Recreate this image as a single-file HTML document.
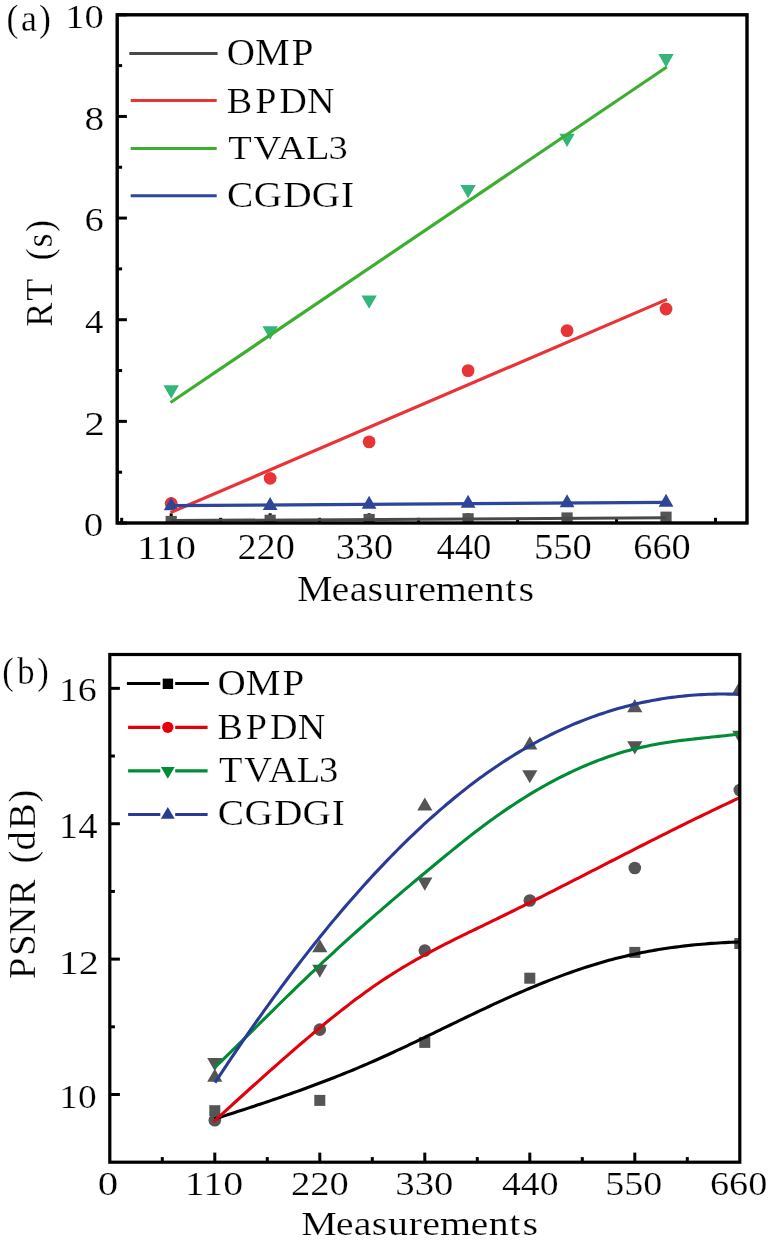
<!DOCTYPE html>
<html><head><meta charset="utf-8"><title>RT and PSNR vs Measurements</title><style>html,body{margin:0;padding:0;background:#fff}svg{display:block}</style></head><body>
<svg width="768" height="1243" viewBox="0 0 768 1243">
<rect width="768" height="1243" fill="#fff"/>
<clipPath id="ca"><rect x="117.2" y="14.8" width="629.8" height="508.2"/></clipPath>
<clipPath id="cb"><rect x="109.8" y="654.5" width="630" height="507.7"/></clipPath>
<line x1="117.20" y1="523.00" x2="126.90" y2="523.00" stroke="#000" stroke-width="3"/>
<line x1="117.20" y1="421.36" x2="126.90" y2="421.36" stroke="#000" stroke-width="3"/>
<line x1="117.20" y1="319.72" x2="126.90" y2="319.72" stroke="#000" stroke-width="3"/>
<line x1="117.20" y1="218.08" x2="126.90" y2="218.08" stroke="#000" stroke-width="3"/>
<line x1="117.20" y1="116.44" x2="126.90" y2="116.44" stroke="#000" stroke-width="3"/>
<line x1="117.20" y1="14.80" x2="126.90" y2="14.80" stroke="#000" stroke-width="3"/>
<line x1="117.20" y1="472.18" x2="122.10" y2="472.18" stroke="#000" stroke-width="3"/>
<line x1="117.20" y1="370.54" x2="122.10" y2="370.54" stroke="#000" stroke-width="3"/>
<line x1="117.20" y1="268.90" x2="122.10" y2="268.90" stroke="#000" stroke-width="3"/>
<line x1="117.20" y1="167.26" x2="122.10" y2="167.26" stroke="#000" stroke-width="3"/>
<line x1="117.20" y1="65.62" x2="122.10" y2="65.62" stroke="#000" stroke-width="3"/>
<line x1="171.18" y1="523.00" x2="171.18" y2="513.30" stroke="#000" stroke-width="3"/>
<line x1="270.15" y1="523.00" x2="270.15" y2="513.30" stroke="#000" stroke-width="3"/>
<line x1="369.12" y1="523.00" x2="369.12" y2="513.30" stroke="#000" stroke-width="3"/>
<line x1="468.09" y1="523.00" x2="468.09" y2="513.30" stroke="#000" stroke-width="3"/>
<line x1="567.06" y1="523.00" x2="567.06" y2="513.30" stroke="#000" stroke-width="3"/>
<line x1="666.03" y1="523.00" x2="666.03" y2="513.30" stroke="#000" stroke-width="3"/>
<line x1="121.70" y1="523.00" x2="121.70" y2="517.80" stroke="#000" stroke-width="3"/>
<line x1="220.67" y1="523.00" x2="220.67" y2="517.80" stroke="#000" stroke-width="3"/>
<line x1="319.64" y1="523.00" x2="319.64" y2="517.80" stroke="#000" stroke-width="3"/>
<line x1="418.60" y1="523.00" x2="418.60" y2="517.80" stroke="#000" stroke-width="3"/>
<line x1="517.57" y1="523.00" x2="517.57" y2="517.80" stroke="#000" stroke-width="3"/>
<line x1="616.54" y1="523.00" x2="616.54" y2="517.80" stroke="#000" stroke-width="3"/>
<line x1="715.51" y1="523.00" x2="715.51" y2="517.80" stroke="#000" stroke-width="3"/>
<g clip-path="url(#ca)">
<rect x="165.58" y="515.90" width="11.20" height="11.20" fill="#555555"/>
<rect x="264.55" y="514.70" width="11.20" height="11.20" fill="#555555"/>
<rect x="363.52" y="513.90" width="11.20" height="11.20" fill="#555555"/>
<rect x="462.49" y="513.20" width="11.20" height="11.20" fill="#555555"/>
<rect x="561.46" y="512.40" width="11.20" height="11.20" fill="#555555"/>
<rect x="660.43" y="511.60" width="11.20" height="11.20" fill="#555555"/>
<path d="M163.48,385.35 L171.18,398.65 L178.88,385.35Z" fill="#34b57b"/>
<path d="M262.45,326.35 L270.15,339.65 L277.85,326.35Z" fill="#34b57b"/>
<path d="M361.42,295.55 L369.12,308.85 L376.82,295.55Z" fill="#34b57b"/>
<path d="M460.39,185.05 L468.09,198.35 L475.79,185.05Z" fill="#34b57b"/>
<path d="M559.36,133.70 L567.06,147.00 L574.76,133.70Z" fill="#34b57b"/>
<path d="M658.33,54.10 L666.03,67.40 L673.73,54.10Z" fill="#34b57b"/>
<circle cx="171.18" cy="503.50" r="6.40" fill="#e83437"/>
<circle cx="270.15" cy="478.30" r="6.40" fill="#e83437"/>
<circle cx="369.12" cy="441.90" r="6.40" fill="#e83437"/>
<circle cx="468.09" cy="370.60" r="6.40" fill="#e83437"/>
<circle cx="567.06" cy="330.60" r="6.40" fill="#e83437"/>
<circle cx="666.03" cy="309.00" r="6.40" fill="#e83437"/>
<path d="M163.78,510.25 L171.18,497.15 L178.58,510.25Z" fill="#2d4699"/>
<path d="M262.75,510.05 L270.15,496.95 L277.55,510.05Z" fill="#2d4699"/>
<path d="M361.72,508.85 L369.12,495.75 L376.52,508.85Z" fill="#2d4699"/>
<path d="M460.69,507.85 L468.09,494.75 L475.49,507.85Z" fill="#2d4699"/>
<path d="M559.66,507.25 L567.06,494.15 L574.46,507.25Z" fill="#2d4699"/>
<path d="M658.63,506.75 L666.03,493.65 L673.43,506.75Z" fill="#2d4699"/>
<line x1="171.00" y1="520.60" x2="666.20" y2="517.80" stroke="#4b4947" stroke-width="3"/>
<line x1="170.50" y1="512.60" x2="667.00" y2="299.40" stroke="#e83437" stroke-width="3.2"/>
<line x1="170.50" y1="402.50" x2="666.80" y2="67.00" stroke="#3daf30" stroke-width="3.2"/>
<line x1="171.00" y1="505.60" x2="665.50" y2="502.30" stroke="#2d4699" stroke-width="3.2"/>
</g>
<rect x="117.2" y="14.8" width="629.8" height="508.2" fill="none" stroke="#000" stroke-width="3.4"/>
<line x1="129.30" y1="53.45" x2="217.60" y2="53.45" stroke="#4b4947" stroke-width="3"/>
<line x1="130.70" y1="100.60" x2="216.70" y2="100.60" stroke="#e83437" stroke-width="3"/>
<line x1="130.70" y1="148.60" x2="216.70" y2="148.60" stroke="#3daf30" stroke-width="3"/>
<line x1="130.70" y1="195.80" x2="216.70" y2="195.80" stroke="#2d4699" stroke-width="3"/>
<line x1="109.80" y1="1094.51" x2="119.90" y2="1094.51" stroke="#000" stroke-width="3"/>
<line x1="109.80" y1="959.12" x2="119.90" y2="959.12" stroke="#000" stroke-width="3"/>
<line x1="109.80" y1="823.73" x2="119.90" y2="823.73" stroke="#000" stroke-width="3"/>
<line x1="109.80" y1="688.35" x2="119.90" y2="688.35" stroke="#000" stroke-width="3"/>
<line x1="109.80" y1="1026.81" x2="114.90" y2="1026.81" stroke="#000" stroke-width="3"/>
<line x1="109.80" y1="891.43" x2="114.90" y2="891.43" stroke="#000" stroke-width="3"/>
<line x1="109.80" y1="756.04" x2="114.90" y2="756.04" stroke="#000" stroke-width="3"/>
<line x1="214.80" y1="1162.20" x2="214.80" y2="1152.60" stroke="#000" stroke-width="3"/>
<line x1="319.80" y1="1162.20" x2="319.80" y2="1152.60" stroke="#000" stroke-width="3"/>
<line x1="424.80" y1="1162.20" x2="424.80" y2="1152.60" stroke="#000" stroke-width="3"/>
<line x1="529.80" y1="1162.20" x2="529.80" y2="1152.60" stroke="#000" stroke-width="3"/>
<line x1="634.80" y1="1162.20" x2="634.80" y2="1152.60" stroke="#000" stroke-width="3"/>
<line x1="162.30" y1="1162.20" x2="162.30" y2="1157.10" stroke="#000" stroke-width="3"/>
<line x1="267.30" y1="1162.20" x2="267.30" y2="1157.10" stroke="#000" stroke-width="3"/>
<line x1="372.30" y1="1162.20" x2="372.30" y2="1157.10" stroke="#000" stroke-width="3"/>
<line x1="477.30" y1="1162.20" x2="477.30" y2="1157.10" stroke="#000" stroke-width="3"/>
<line x1="582.30" y1="1162.20" x2="582.30" y2="1157.10" stroke="#000" stroke-width="3"/>
<line x1="687.30" y1="1162.20" x2="687.30" y2="1157.10" stroke="#000" stroke-width="3"/>
<g clip-path="url(#cb)">
<rect x="209.30" y="1105.20" width="11.00" height="11.00" fill="#555555"/>
<circle cx="214.80" cy="1120.20" r="6.30" fill="#555555"/>
<path d="M207.20,1058.05 L214.80,1071.15 L222.40,1058.05Z" fill="#555555"/>
<path d="M207.20,1081.85 L214.80,1068.75 L222.40,1081.85Z" fill="#555555"/>
<rect x="314.30" y="1094.90" width="11.00" height="11.00" fill="#555555"/>
<circle cx="319.80" cy="1029.60" r="6.30" fill="#555555"/>
<path d="M312.20,964.65 L319.80,977.75 L327.40,964.65Z" fill="#555555"/>
<path d="M312.20,952.35 L319.80,939.25 L327.40,952.35Z" fill="#555555"/>
<rect x="419.30" y="1036.90" width="11.00" height="11.00" fill="#555555"/>
<circle cx="424.80" cy="950.60" r="6.30" fill="#555555"/>
<path d="M417.20,877.55 L424.80,890.65 L432.40,877.55Z" fill="#555555"/>
<path d="M417.20,810.55 L424.80,797.45 L432.40,810.55Z" fill="#555555"/>
<rect x="524.30" y="972.70" width="11.00" height="11.00" fill="#555555"/>
<circle cx="529.80" cy="900.50" r="6.30" fill="#555555"/>
<path d="M522.20,770.25 L529.80,783.35 L537.40,770.25Z" fill="#555555"/>
<path d="M522.20,749.45 L529.80,736.35 L537.40,749.45Z" fill="#555555"/>
<rect x="629.30" y="946.90" width="11.00" height="11.00" fill="#555555"/>
<circle cx="634.80" cy="868.00" r="6.30" fill="#555555"/>
<path d="M627.20,741.35 L634.80,754.45 L642.40,741.35Z" fill="#555555"/>
<path d="M627.20,712.15 L634.80,699.05 L642.40,712.15Z" fill="#555555"/>
<rect x="734.30" y="938.00" width="11.00" height="11.00" fill="#555555"/>
<circle cx="739.80" cy="790.00" r="6.30" fill="#555555"/>
<path d="M732.20,730.75 L739.80,743.85 L747.40,730.75Z" fill="#555555"/>
<path d="M732.20,693.75 L739.80,680.65 L747.40,693.75Z" fill="#555555"/>
<polyline points="214.30,1119.02 217.62,1117.97 220.93,1116.91 224.25,1115.86 227.56,1114.80 230.88,1113.73 234.19,1112.67 237.51,1111.59 240.83,1110.52 244.14,1109.44 247.46,1108.36 250.77,1107.27 254.09,1106.17 257.40,1105.07 260.72,1103.97 264.04,1102.86 267.35,1101.74 270.67,1100.62 273.98,1099.49 277.30,1098.35 280.61,1097.21 283.93,1096.05 287.25,1094.89 290.56,1093.73 293.88,1092.55 297.19,1091.37 300.51,1090.18 303.82,1088.97 307.14,1087.76 310.46,1086.54 313.77,1085.31 317.09,1084.07 320.40,1082.82 323.72,1081.56 327.03,1080.29 330.35,1079.01 333.67,1077.71 336.98,1076.41 340.30,1075.09 343.61,1073.76 346.93,1072.42 350.24,1071.07 353.56,1069.70 356.88,1068.32 360.19,1066.93 363.51,1065.52 366.82,1064.10 370.14,1062.66 373.45,1061.21 376.77,1059.75 380.09,1058.27 383.40,1056.78 386.72,1055.28 390.03,1053.76 393.35,1052.24 396.66,1050.70 399.98,1049.15 403.30,1047.60 406.61,1046.03 409.93,1044.46 413.24,1042.88 416.56,1041.30 419.87,1039.71 423.19,1038.11 426.51,1036.51 429.82,1034.91 433.14,1033.31 436.45,1031.70 439.77,1030.09 443.08,1028.48 446.40,1026.87 449.72,1025.26 453.03,1023.65 456.35,1022.05 459.66,1020.44 462.98,1018.84 466.29,1017.25 469.61,1015.66 472.93,1014.07 476.24,1012.49 479.56,1010.92 482.87,1009.36 486.19,1007.80 489.51,1006.25 492.82,1004.71 496.14,1003.18 499.45,1001.67 502.77,1000.16 506.08,998.66 509.40,997.17 512.72,995.70 516.03,994.24 519.35,992.79 522.66,991.36 525.98,989.94 529.29,988.53 532.61,987.14 535.93,985.76 539.24,984.40 542.56,983.06 545.87,981.73 549.19,980.42 552.50,979.13 555.82,977.86 559.14,976.60 562.45,975.37 565.77,974.15 569.08,972.95 572.40,971.78 575.71,970.62 579.03,969.49 582.35,968.38 585.66,967.29 588.98,966.23 592.29,965.18 595.61,964.16 598.92,963.17 602.24,962.20 605.56,961.26 608.87,960.34 612.19,959.45 615.50,958.58 618.82,957.74 622.13,956.93 625.45,956.14 628.77,955.38 632.08,954.64 635.40,953.92 638.71,953.23 642.03,952.57 645.34,951.92 648.66,951.30 651.98,950.70 655.29,950.13 658.61,949.57 661.92,949.04 665.24,948.53 668.55,948.04 671.87,947.57 675.19,947.12 678.50,946.69 681.82,946.28 685.13,945.89 688.45,945.52 691.76,945.16 695.08,944.83 698.40,944.51 701.71,944.21 705.03,943.93 708.34,943.67 711.66,943.42 714.97,943.18 718.29,942.97 721.61,942.77 724.92,942.58 728.24,942.41 731.55,942.26 734.87,942.11 738.18,941.99 741.50,941.87" fill="none" stroke="#000" stroke-width="3.1" stroke-linejoin="round"/>
<polyline points="213.70,1121.61 217.02,1118.60 220.34,1115.58 223.66,1112.56 226.98,1109.55 230.30,1106.53 233.62,1103.52 236.94,1100.51 240.26,1097.51 243.58,1094.50 246.89,1091.50 250.21,1088.51 253.53,1085.52 256.85,1082.54 260.17,1079.56 263.49,1076.59 266.81,1073.63 270.13,1070.67 273.45,1067.73 276.77,1064.79 280.09,1061.87 283.41,1058.95 286.73,1056.05 290.05,1053.15 293.37,1050.27 296.69,1047.40 300.01,1044.54 303.33,1041.70 306.65,1038.87 309.97,1036.06 313.28,1033.26 316.60,1030.49 319.92,1027.73 323.24,1024.98 326.56,1022.26 329.88,1019.56 333.20,1016.89 336.52,1014.23 339.84,1011.60 343.16,1009.00 346.48,1006.42 349.80,1003.87 353.12,1001.35 356.44,998.85 359.76,996.39 363.08,993.95 366.40,991.55 369.72,989.18 373.04,986.84 376.36,984.54 379.67,982.27 382.99,980.04 386.31,977.85 389.63,975.70 392.95,973.58 396.27,971.50 399.59,969.46 402.91,967.44 406.23,965.46 409.55,963.51 412.87,961.59 416.19,959.70 419.51,957.84 422.83,956.00 426.15,954.19 429.47,952.39 432.79,950.62 436.11,948.87 439.43,947.14 442.75,945.43 446.06,943.74 449.38,942.05 452.70,940.39 456.02,938.73 459.34,937.09 462.66,935.45 465.98,933.83 469.30,932.21 472.62,930.60 475.94,928.99 479.26,927.38 482.58,925.78 485.90,924.18 489.22,922.58 492.54,920.97 495.86,919.36 499.18,917.75 502.50,916.13 505.82,914.51 509.14,912.88 512.45,911.24 515.77,909.60 519.09,907.96 522.41,906.31 525.73,904.66 529.05,903.00 532.37,901.34 535.69,899.67 539.01,898.00 542.33,896.33 545.65,894.66 548.97,892.98 552.29,891.30 555.61,889.61 558.93,887.92 562.25,886.24 565.57,884.54 568.89,882.85 572.21,881.16 575.53,879.46 578.84,877.76 582.16,876.06 585.48,874.36 588.80,872.66 592.12,870.96 595.44,869.26 598.76,867.56 602.08,865.86 605.40,864.16 608.72,862.45 612.04,860.75 615.36,859.05 618.68,857.35 622.00,855.66 625.32,853.96 628.64,852.26 631.96,850.57 635.28,848.88 638.60,847.19 641.92,845.50 645.23,843.82 648.55,842.14 651.87,840.46 655.19,838.78 658.51,837.11 661.83,835.44 665.15,833.77 668.47,832.11 671.79,830.45 675.11,828.80 678.43,827.15 681.75,825.50 685.07,823.86 688.39,822.23 691.71,820.60 695.03,818.97 698.35,817.35 701.67,815.74 704.99,814.13 708.31,812.53 711.62,810.93 714.94,809.35 718.26,807.76 721.58,806.19 724.90,804.62 728.22,803.06 731.54,801.50 734.86,799.96 738.18,798.42 741.50,796.89" fill="none" stroke="#e3000b" stroke-width="3.1" stroke-linejoin="round"/>
<polyline points="214.30,1067.78 217.62,1064.67 220.93,1061.52 224.25,1058.35 227.56,1055.16 230.88,1051.95 234.19,1048.72 237.51,1045.47 240.83,1042.21 244.14,1038.93 247.46,1035.65 250.77,1032.35 254.09,1029.06 257.40,1025.76 260.72,1022.46 264.04,1019.16 267.35,1015.86 270.67,1012.57 273.98,1009.29 277.30,1006.02 280.61,1002.75 283.93,999.50 287.25,996.26 290.56,993.04 293.88,989.82 297.19,986.62 300.51,983.44 303.82,980.26 307.14,977.10 310.46,973.95 313.77,970.82 317.09,967.69 320.40,964.58 323.72,961.49 327.03,958.40 330.35,955.33 333.67,952.27 336.98,949.23 340.30,946.20 343.61,943.18 346.93,940.17 350.24,937.18 353.56,934.20 356.88,931.23 360.19,928.27 363.51,925.33 366.82,922.40 370.14,919.48 373.45,916.58 376.77,913.68 380.09,910.80 383.40,907.94 386.72,905.08 390.03,902.23 393.35,899.39 396.66,896.57 399.98,893.75 403.30,890.94 406.61,888.14 409.93,885.35 413.24,882.56 416.56,879.78 419.87,877.01 423.19,874.25 426.51,871.49 429.82,868.74 433.14,865.99 436.45,863.25 439.77,860.51 443.08,857.77 446.40,855.05 449.72,852.33 453.03,849.63 456.35,846.94 459.66,844.26 462.98,841.61 466.29,838.98 469.61,836.37 472.93,833.78 476.24,831.22 479.56,828.69 482.87,826.20 486.19,823.73 489.51,821.30 492.82,818.90 496.14,816.53 499.45,814.20 502.77,811.89 506.08,809.62 509.40,807.39 512.72,805.18 516.03,803.01 519.35,800.88 522.66,798.77 525.98,796.70 529.29,794.67 532.61,792.67 535.93,790.70 539.24,788.77 542.56,786.88 545.87,785.02 549.19,783.19 552.50,781.40 555.82,779.65 559.14,777.93 562.45,776.25 565.77,774.60 569.08,772.99 572.40,771.42 575.71,769.88 579.03,768.38 582.35,766.92 585.66,765.49 588.98,764.10 592.29,762.75 595.61,761.44 598.92,760.16 602.24,758.93 605.56,757.73 608.87,756.57 612.19,755.45 615.50,754.36 618.82,753.32 622.13,752.32 625.45,751.35 628.77,750.43 632.08,749.54 635.40,748.70 638.71,747.89 642.03,747.12 645.34,746.40 648.66,745.71 651.98,745.05 655.29,744.43 658.61,743.83 661.92,743.27 665.24,742.74 668.55,742.22 671.87,741.74 675.19,741.27 678.50,740.83 681.82,740.40 685.13,739.99 688.45,739.60 691.76,739.21 695.08,738.84 698.40,738.48 701.71,738.12 705.03,737.77 708.34,737.42 711.66,737.08 714.97,736.73 718.29,736.39 721.61,736.04 724.92,735.68 728.24,735.31 731.55,734.94 734.87,734.56 738.18,734.16 741.50,733.75" fill="none" stroke="#008c35" stroke-width="3.1" stroke-linejoin="round"/>
<polyline points="215.00,1082.65 218.31,1077.60 221.62,1072.58 224.93,1067.59 228.25,1062.62 231.56,1057.68 234.87,1052.78 238.18,1047.90 241.49,1043.05 244.80,1038.23 248.11,1033.44 251.42,1028.68 254.74,1023.95 258.05,1019.25 261.36,1014.58 264.67,1009.94 267.98,1005.33 271.29,1000.75 274.60,996.20 277.92,991.68 281.23,987.19 284.54,982.73 287.85,978.30 291.16,973.91 294.47,969.54 297.78,965.21 301.09,960.90 304.41,956.63 307.72,952.39 311.03,948.19 314.34,944.01 317.65,939.86 320.96,935.75 324.27,931.67 327.58,927.62 330.90,923.61 334.21,919.62 337.52,915.67 340.83,911.75 344.14,907.87 347.45,904.02 350.76,900.20 354.08,896.41 357.39,892.65 360.70,888.93 364.01,885.25 367.32,881.59 370.63,877.97 373.94,874.39 377.25,870.84 380.57,867.32 383.88,863.83 387.19,860.38 390.50,856.97 393.81,853.59 397.12,850.24 400.43,846.93 403.75,843.65 407.06,840.41 410.37,837.20 413.68,834.03 416.99,830.89 420.30,827.79 423.61,824.72 426.92,821.69 430.24,818.70 433.55,815.74 436.86,812.81 440.17,809.92 443.48,807.07 446.79,804.26 450.10,801.48 453.42,798.74 456.73,796.03 460.04,793.36 463.35,790.73 466.66,788.13 469.97,785.57 473.28,783.05 476.59,780.57 479.91,778.12 483.22,775.71 486.53,773.34 489.84,771.00 493.15,768.70 496.46,766.44 499.77,764.22 503.08,762.04 506.40,759.89 509.71,757.79 513.02,755.72 516.33,753.68 519.64,751.69 522.95,749.73 526.26,747.81 529.58,745.92 532.89,744.07 536.20,742.26 539.51,740.49 542.82,738.75 546.13,737.04 549.44,735.38 552.75,733.74 556.07,732.15 559.38,730.59 562.69,729.06 566.00,727.57 569.31,726.11 572.62,724.69 575.93,723.30 579.25,721.95 582.56,720.63 585.87,719.35 589.18,718.10 592.49,716.88 595.80,715.70 599.11,714.55 602.42,713.43 605.74,712.35 609.05,711.29 612.36,710.28 615.67,709.29 618.98,708.34 622.29,707.42 625.60,706.53 628.92,705.67 632.23,704.85 635.54,704.06 638.85,703.29 642.16,702.57 645.47,701.87 648.78,701.20 652.09,700.56 655.41,699.96 658.72,699.38 662.03,698.84 665.34,698.32 668.65,697.84 671.96,697.38 675.27,696.96 678.58,696.56 681.90,696.20 685.21,695.86 688.52,695.55 691.83,695.27 695.14,695.02 698.45,694.80 701.76,694.61 705.08,694.45 708.39,694.31 711.70,694.20 715.01,694.12 718.32,694.07 721.63,694.05 724.94,694.05 728.25,694.08 731.57,694.14 734.88,694.22 738.19,694.34 741.50,694.47" fill="none" stroke="#283c96" stroke-width="3.1" stroke-linejoin="round"/>
</g>
<rect x="109.8" y="654.5" width="630.0" height="507.70000000000005" fill="none" stroke="#000" stroke-width="3.2"/>
<line x1="126.90" y1="683.50" x2="160.30" y2="683.50" stroke="#000" stroke-width="3.2"/>
<line x1="175.20" y1="683.50" x2="208.90" y2="683.50" stroke="#000" stroke-width="3.2"/>
<line x1="128.10" y1="727.40" x2="160.30" y2="727.40" stroke="#e3000b" stroke-width="3.2"/>
<line x1="175.20" y1="727.40" x2="207.60" y2="727.40" stroke="#e3000b" stroke-width="3.2"/>
<line x1="128.10" y1="770.80" x2="160.30" y2="770.80" stroke="#008c35" stroke-width="3.2"/>
<line x1="175.20" y1="770.80" x2="207.60" y2="770.80" stroke="#008c35" stroke-width="3.2"/>
<line x1="128.10" y1="814.50" x2="160.30" y2="814.50" stroke="#283c96" stroke-width="3.2"/>
<line x1="175.20" y1="814.50" x2="207.60" y2="814.50" stroke="#283c96" stroke-width="3.2"/>
<rect x="162.70" y="678.60" width="10.40" height="10.40" fill="#000"/>
<circle cx="167.80" cy="727.30" r="5.65" fill="#e3000b"/>
<path d="M160.90,767.00 L167.80,778.70 L174.70,767.00Z" fill="#008c35"/>
<path d="M160.90,818.70 L167.80,807.10 L174.70,818.70Z" fill="#283c96"/>
<g font-family="Liberation Serif, serif" font-size="100" fill="#000" stroke="#fff" stroke-width="0.25">
<text vector-effect="non-scaling-stroke" x="18.09 58.69 109.11" transform="matrix(0.3577 0 0 0.3778 0 31.07)">(a)</text>
<text vector-effect="non-scaling-stroke" transform="matrix(0.3856 0 0 0.3382 65.28 28.22)">10</text>
<text vector-effect="non-scaling-stroke" transform="matrix(0.3929 0 0 0.3418 84.53 129.92)">8</text>
<text vector-effect="non-scaling-stroke" transform="matrix(0.3860 0 0 0.3388 84.46 231.32)">6</text>
<text vector-effect="non-scaling-stroke" transform="matrix(0.3696 0 0 0.3415 85.06 332.80)">4</text>
<text vector-effect="non-scaling-stroke" transform="matrix(0.4125 0 0 0.3400 84.35 435.00)">2</text>
<text vector-effect="non-scaling-stroke" transform="matrix(0.3905 0 0 0.3448 83.84 535.61)">0</text>
<text vector-effect="non-scaling-stroke" x="-905.10 -833.41 -772.32 -721.00 -685.68 -643.12" transform="matrix(0 -0.3609 0.3756 0 51.91 0)">RT (s)</text>
<text vector-effect="non-scaling-stroke" transform="matrix(0.4053 0 0 0.3426 136.85 558.81)">110</text>
<text vector-effect="non-scaling-stroke" transform="matrix(0.3824 0 0 0.3478 237.47 558.80)">220</text>
<text vector-effect="non-scaling-stroke" transform="matrix(0.3823 0 0 0.3478 335.69 558.80)">330</text>
<text vector-effect="non-scaling-stroke" transform="matrix(0.3660 0 0 0.3478 436.47 558.80)">440</text>
<text vector-effect="non-scaling-stroke" transform="matrix(0.3850 0 0 0.3478 534.09 558.80)">550</text>
<text vector-effect="non-scaling-stroke" transform="matrix(0.3831 0 0 0.3478 633.27 558.80)">660</text>
<text vector-effect="non-scaling-stroke" x="742.63 828.88 874.38 918.88 959.56 1011.63 1045.50 1089.63 1166.25 1211.63 1263.00 1296.25" transform="matrix(0.4000 0 0 0.3485 0 600.55)">Measurements</text>
<text vector-effect="non-scaling-stroke" x="580.45 652.72 746.77" transform="matrix(0.3906 0 0 0.3694 0 65.26)">OMP</text>
<text vector-effect="non-scaling-stroke" x="594.97 669.21 732.42 805.11" transform="matrix(0.3813 0 0 0.3600 0 112.50)">BPDN</text>
<text vector-effect="non-scaling-stroke" x="593.37 659.11 722.16 795.72 853.95" transform="matrix(0.3846 0 0 0.3412 0 159.42)">TVAL3</text>
<text vector-effect="non-scaling-stroke" x="576.75 644.35 719.11 791.49 865.83" transform="matrix(0.3938 0 0 0.3672 0 206.77)">CGDGI</text>
<text vector-effect="non-scaling-stroke" x="6.26 49.94 107.64" transform="matrix(0.3462 0 0 0.3700 0 684.33)">(b)</text>
<text vector-effect="non-scaling-stroke" transform="matrix(0.3795 0 0 0.3265 58.88 700.95)">16</text>
<text vector-effect="non-scaling-stroke" transform="matrix(0.3865 0 0 0.3500 58.82 838.00)">14</text>
<text vector-effect="non-scaling-stroke" transform="matrix(0.4024 0 0 0.3455 58.68 973.50)">12</text>
<text vector-effect="non-scaling-stroke" transform="matrix(0.3747 0 0 0.3338 59.23 1108.03)">10</text>
<text vector-effect="non-scaling-stroke" x="-2543.82 -2483.14 -2427.99 -2351.27 -2284.57 -2243.51 -2209.75 -2153.92 -2085.20" transform="matrix(0 -0.3849 0.3711 0 34.61 0)">PSNR (dB)</text>
<text vector-effect="non-scaling-stroke" transform="matrix(0.4095 0 0 0.3358 97.76 1194.63)">0</text>
<text vector-effect="non-scaling-stroke" transform="matrix(0.4000 0 0 0.3309 184.80 1194.64)">110</text>
<text vector-effect="non-scaling-stroke" transform="matrix(0.3852 0 0 0.3358 290.96 1194.63)">220</text>
<text vector-effect="non-scaling-stroke" transform="matrix(0.3879 0 0 0.3358 395.26 1194.63)">330</text>
<text vector-effect="non-scaling-stroke" transform="matrix(0.3771 0 0 0.3358 501.95 1194.63)">440</text>
<text vector-effect="non-scaling-stroke" transform="matrix(0.3800 0 0 0.3358 605.32 1194.63)">550</text>
<text vector-effect="non-scaling-stroke" transform="matrix(0.3824 0 0 0.3358 709.97 1194.63)">660</text>
<text vector-effect="non-scaling-stroke" x="752.88 839.13 884.63 929.13 969.81 1021.88 1055.75 1099.88 1176.50 1221.88 1273.25 1306.50" transform="matrix(0.4000 0 0 0.3424 0 1234.86)">Measurements</text>
<text vector-effect="non-scaling-stroke" x="556.64 628.91 722.96" transform="matrix(0.3906 0 0 0.3642 0 694.87)">OMP</text>
<text vector-effect="non-scaling-stroke" x="570.58 644.82 708.03 780.72" transform="matrix(0.3813 0 0 0.3585 0 738.60)">BPDN</text>
<text vector-effect="non-scaling-stroke" x="569.19 634.93 697.98 771.54 829.77" transform="matrix(0.3846 0 0 0.3544 0 782.09)">TVAL3</text>
<text vector-effect="non-scaling-stroke" x="553.13 620.74 695.50 767.88 842.22" transform="matrix(0.3938 0 0 0.3537 0 825.49)">CGDGI</text>
</g>
</svg>
</body></html>
